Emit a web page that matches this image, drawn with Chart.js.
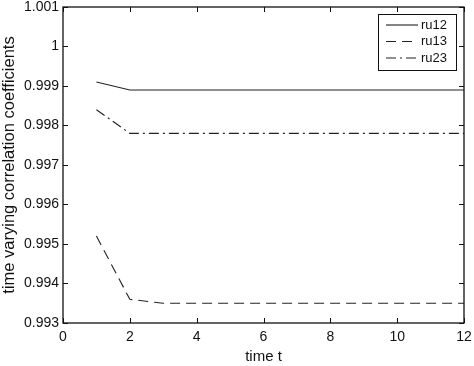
<!DOCTYPE html>
<html>
<head>
<meta charset="utf-8">
<script src="https://cdn.jsdelivr.net/npm/chart.js@4/dist/chart.umd.min.js"></script>
<style>
  html, body { margin: 0; padding: 0; background: #fff; }
  #wrap { width: 474px; height: 366px; }
</style>
</head>
<body>
<div id="wrap"><canvas id="corrChart"></canvas></div>
<script>
// values
var timeSteps = [1, 2, 3, 4, 5, 6, 7, 8, 9, 10, 11, 12];
var ru12 = [0.9991, 0.9989, 0.9989, 0.9989, 0.9989, 0.9989, 0.9989, 0.9989, 0.9989, 0.9989, 0.9989, 0.9989];
var ru13 = [0.9952, 0.9936, 0.9935, 0.9935, 0.9935, 0.9935, 0.9935, 0.9935, 0.9935, 0.9935, 0.9935, 0.9935];
var ru23 = [0.9984, 0.9978, 0.9978, 0.9978, 0.9978, 0.9978, 0.9978, 0.9978, 0.9978, 0.9978, 0.9978, 0.9978];
var xTicks = [0, 2, 4, 6, 8, 10, 12];
var yTicks = [0.993, 0.994, 0.995, 0.996, 0.997, 0.998, 0.999, 1, 1.001];

var lineColor = '#222';

function toPoints(ys) {
   return timeSteps.map(function (t, i) { return { x: t, y: ys[i] }; });
}

// Box around the plot, inward tick marks on all four sides, legend inside
var matlabFrame = {
   id: 'matlabFrame',
   afterDatasetsDraw: function (chart) {
       var ctx = chart.ctx;
       var a = chart.chartArea;
       var xs = chart.scales.x, ys = chart.scales.y;
       ctx.save();
       ctx.strokeStyle = '#111';
       ctx.lineWidth = 1.3;
       ctx.strokeRect(a.left, a.top, a.right - a.left, a.bottom - a.top);
       ctx.lineWidth = 1;
       ctx.beginPath();
       xTicks.forEach(function (v) {
           var px = Math.round(xs.getPixelForValue(v)) + 0.5;
           ctx.moveTo(px, a.bottom); ctx.lineTo(px, a.bottom - 5);
           ctx.moveTo(px, a.top); ctx.lineTo(px, a.top + 5);
       });
       yTicks.forEach(function (v) {
           var py = Math.round(ys.getPixelForValue(v)) + 0.5;
           ctx.moveTo(a.left, py); ctx.lineTo(a.left + 5, py);
           ctx.moveTo(a.right, py); ctx.lineTo(a.right - 5, py);
       });
       ctx.stroke();

       // legend box
       var bx = 378, by = 14, bw = 78, bh = 56;
       ctx.fillStyle = '#fff';
       ctx.fillRect(bx, by, bw, bh);
       ctx.strokeStyle = '#111';
       ctx.lineWidth = 1;
       ctx.strokeRect(bx + 0.5, by + 0.5, bw, bh);
       ctx.font = '13px "Liberation Sans", Arial, sans-serif';
       ctx.textBaseline = 'middle';
       ctx.textAlign = 'left';
       chart.data.datasets.forEach(function (ds, i) {
           var ly = by + 11 + i * 16.5;
           ctx.strokeStyle = ds.borderColor;
           ctx.lineWidth = ds.borderWidth;
           ctx.setLineDash(ds.borderDash || []);
           ctx.beginPath();
           ctx.moveTo(bx + 8, ly); ctx.lineTo(bx + 40, ly);
           ctx.stroke();
           ctx.setLineDash([]);
           ctx.fillStyle = '#111';
           ctx.fillText(ds.label, bx + 43, ly);
       });
       ctx.restore();
   }
};

window.onload = function () {
   var ctx = document.getElementById('corrChart').getContext('2d');
   new Chart(ctx, {
       type: 'line',
       data: {
           datasets: [
               { label: 'ru12', data: toPoints(ru12), borderColor: lineColor, borderWidth: 1.1, borderDash: [] },
               { label: 'ru13', data: toPoints(ru13), borderColor: lineColor, borderWidth: 1.1, borderDash: [10, 6] },
               { label: 'ru23', data: toPoints(ru23), borderColor: lineColor, borderWidth: 1.1, borderDash: [10, 4, 2, 4] }
           ]
       },
       options: {
           responsive: true,
           maintainAspectRatio: false,
           animation: false,
           layout: { padding: { top: 7, right: 10, left: 0, bottom: 0 } },
           elements: { point: { radius: 0 }, line: { tension: 0, fill: false } },
           plugins: { legend: { display: false }, tooltip: { enabled: false } },
           scales: {
               x: {
                   type: 'linear',
                   min: 0,
                   max: 12,
                   afterBuildTicks: function (s) { s.ticks = xTicks.map(function (v) { return { value: v }; }); },
                   afterFit: function (s) { s.height = 43; s.paddingLeft = 0; s.paddingRight = 0; },
                   grid: { display: false, drawTicks: false },
                   border: { display: false },
                   ticks: {
                       padding: 6,
                       color: '#111',
                       maxRotation: 0,
                       font: { family: '"Liberation Sans", Arial, sans-serif', size: 14 }
                   },
                   title: {
                       display: true,
                       text: 'time t',
                       color: '#111',
                       padding: { top: 1, bottom: 0 },
                       font: { family: '"Liberation Sans", Arial, sans-serif', size: 15 }
                   }
               },
               y: {
                   min: 0.993,
                   max: 1.001,
                   afterBuildTicks: function (s) { s.ticks = yTicks.map(function (v) { return { value: v }; }); },
                   afterFit: function (s) { s.width = 63; s.paddingTop = 0; s.paddingBottom = 0; },
                   grid: { display: false, drawTicks: false },
                   border: { display: false },
                   ticks: {
                       padding: 4,
                       color: '#111',
                       font: { family: '"Liberation Sans", Arial, sans-serif', size: 14 },
                       callback: function (v) { return String(Math.round(v * 1000) / 1000); }
                   },
                   title: {
                       display: true,
                       text: 'time varying correlation coefficients',
                       color: '#111',
                       padding: { top: 0, bottom: 1 },
                       font: { family: '"Liberation Sans", Arial, sans-serif', size: 16.5 }
                   }
               }
           }
       },
       plugins: [matlabFrame]
   });
};
</script>
</body>
</html>
